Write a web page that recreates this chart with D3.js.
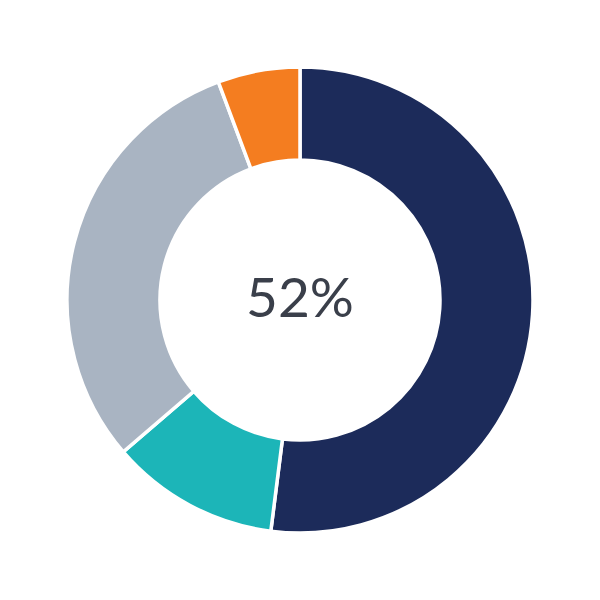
<!DOCTYPE html>
<html>
<head>
<meta charset="utf-8">
<script src="https://cdn.jsdelivr.net/npm/d3@7"></script>
<style>
  body { margin: 0; background: #fff; }
  svg { display: block; }
</style>
</head>
<body>
<svg id="chart"></svg>
<script>
// slices clockwise from 12 o'clock
const labels = ['A', 'B', 'C', 'D']
const values = [52, 11.7, 30.6, 5.7]
const colors = ['#1c2b5a', '#1cb5b8', '#a9b4c2', '#f47d20']
const centerText = '52%'

const width = 600
const height = 600

const svg = d3.select('#chart')
	.attr('width', width)
	.attr('height', height)

const g = svg.append('g')
	.attr('transform', `translate(${300},${300})`)

const pie = d3.pie().sort(null).value(d => d)
const arc = d3.arc().innerRadius(140).outerRadius(233)

g.selectAll('path')
	.data(pie(values))
	.join('path')
	.attr('d', arc)
	.attr('fill', (d, i) => colors[i])
	.attr('stroke', '#fff')
	.attr('stroke-width', 3.5)
	.attr('stroke-linejoin', 'miter')

g.append('text')
	.attr('text-anchor', 'middle')
	.attr('y', 17)
	.style('font-family', 'Lato, sans-serif')
	.style('font-weight', 400)
	.style('font-size', '55px')
	.style('fill', '#3a3f4a')
	.text(centerText)
</script>
</body>
</html>
